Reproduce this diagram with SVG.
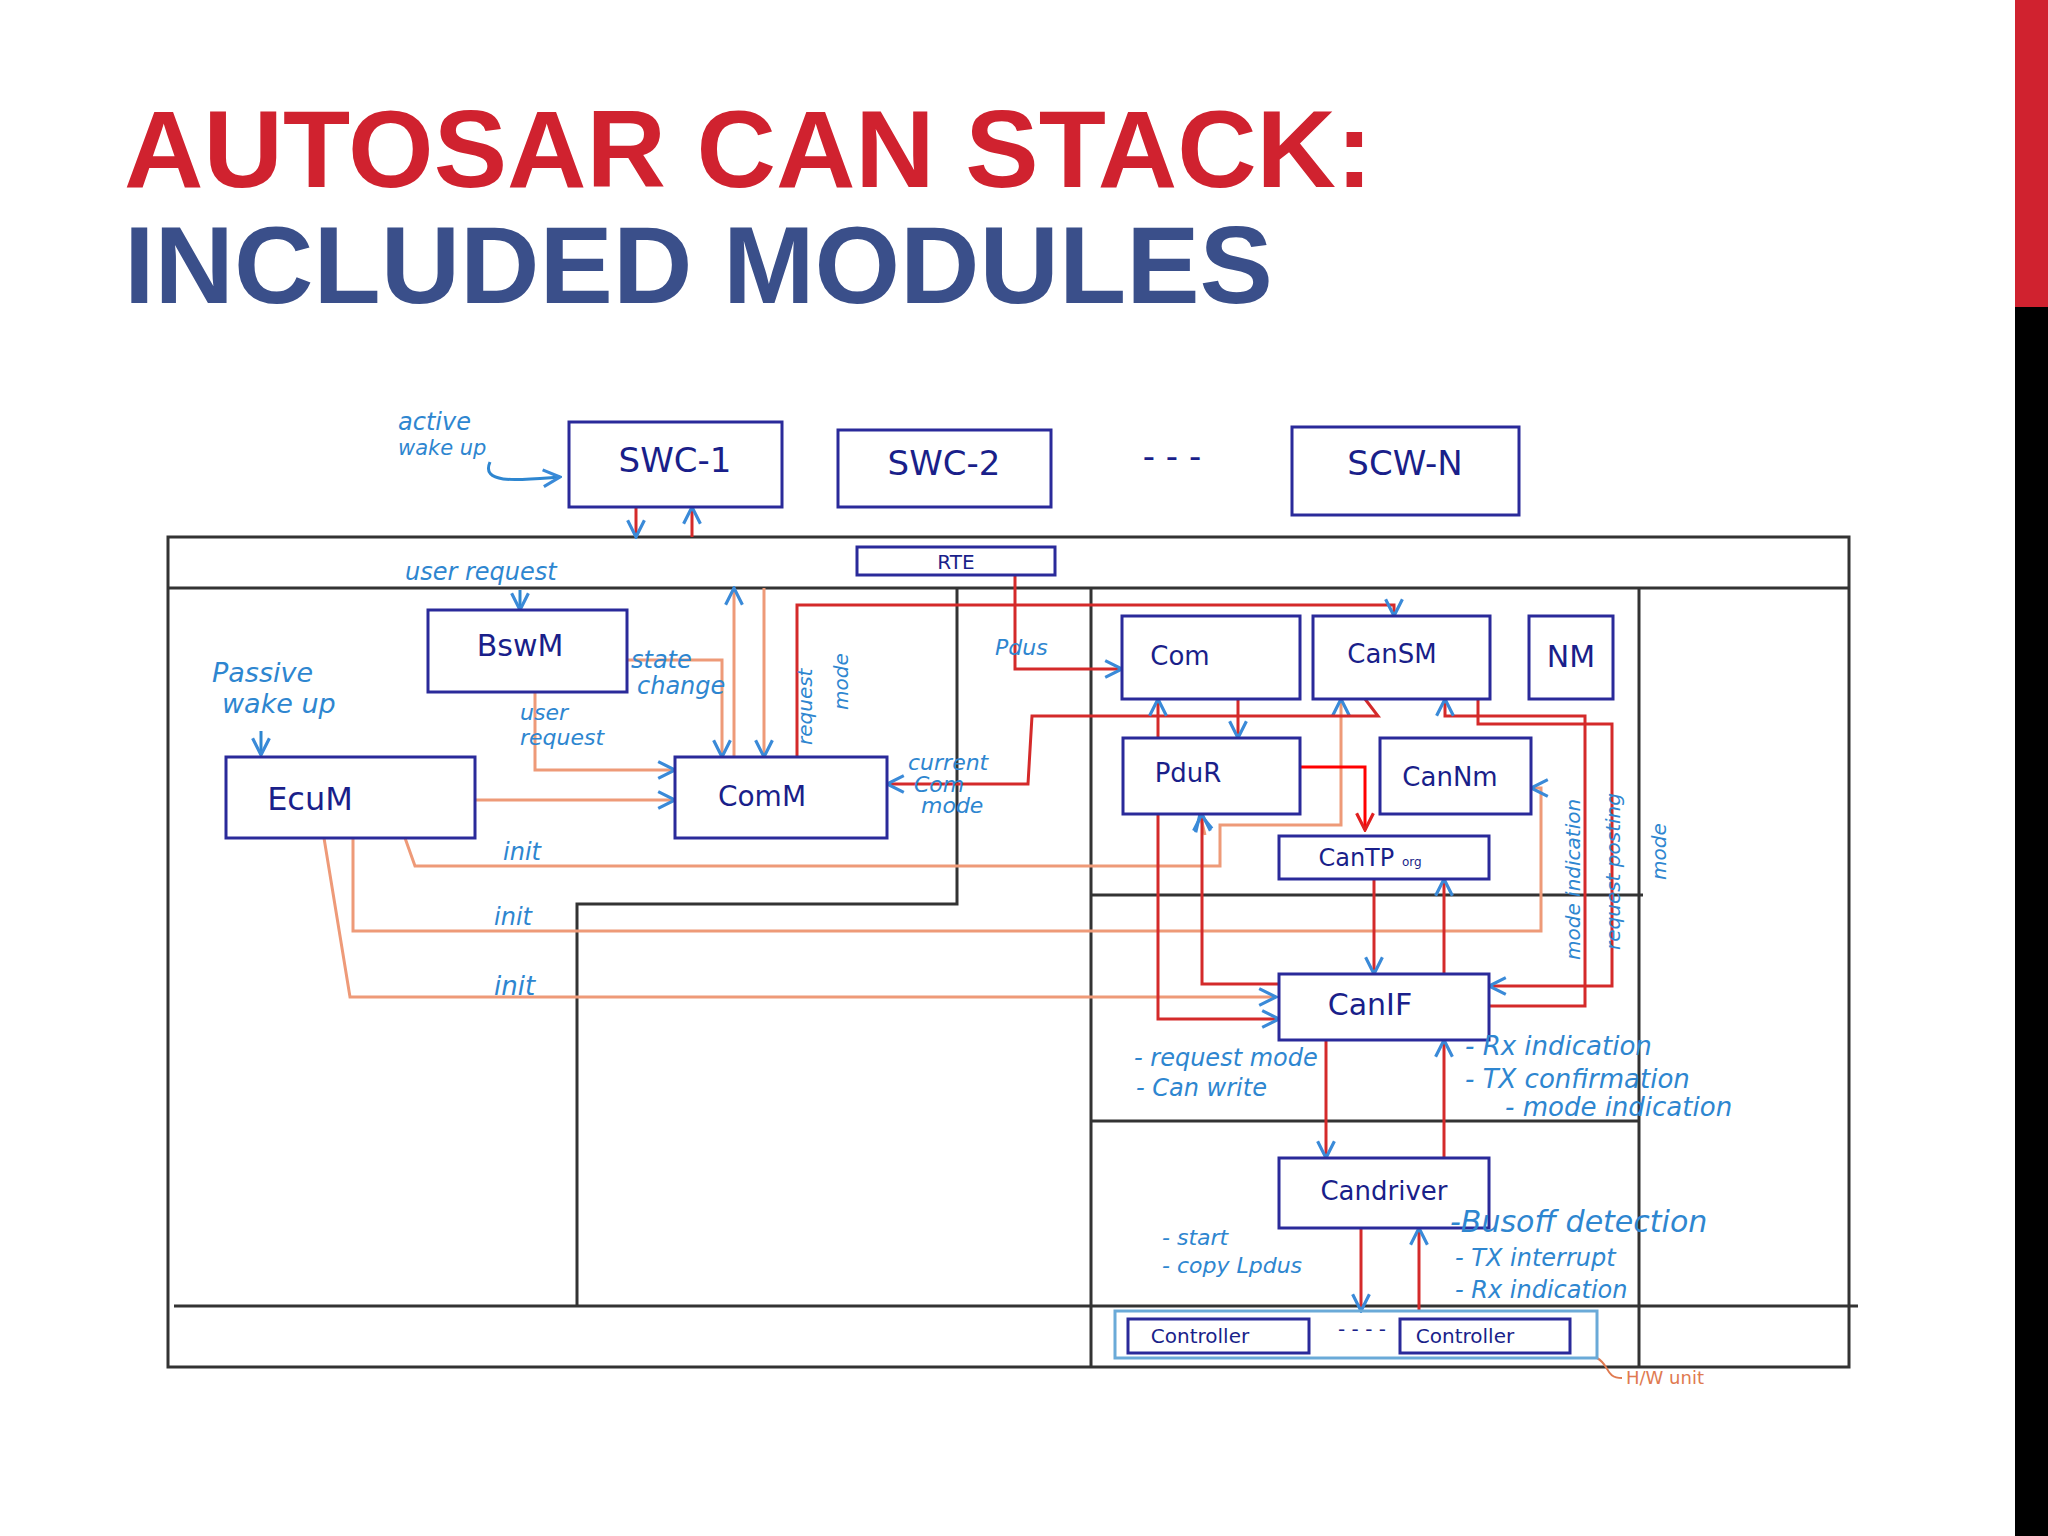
<svg xmlns="http://www.w3.org/2000/svg" width="2048" height="1536" viewBox="0 0 2048 1536">
<defs>
<style>
.box{fill:#fff;stroke:#2a2a9a;stroke-width:3}
.lbl{font-family:"DejaVu Sans",sans-serif;fill:#1a1f8a;text-anchor:middle}
.ann{font-family:"DejaVu Sans",sans-serif;fill:#2e86d0;font-style:italic}
.frame{fill:none;stroke:#333;stroke-width:3}
.red{fill:none;stroke:#d42a2a;stroke-width:3;marker-end:url(#ah)}
.org{fill:none;stroke:#ee9a78;stroke-width:3;marker-end:url(#ah)}
</style>
<marker id="ah" viewBox="0 0 10 10" refX="9" refY="5" markerWidth="7" markerHeight="7" orient="auto-start-reverse" markerUnits="strokeWidth"><path d="M1,1 L9,5 L1,9" fill="none" stroke="#3a8ad8" stroke-width="1.5"/></marker>
<marker id="ahr" viewBox="0 0 10 10" refX="9" refY="5" markerWidth="7" markerHeight="7" orient="auto" markerUnits="strokeWidth"><path d="M1,1 L9,5 L1,9" fill="none" stroke="#e02020" stroke-width="1.5"/></marker>
</defs>
<rect width="2048" height="1536" fill="#fff"/>
<rect x="2015" y="0" width="33" height="307" fill="#d0222f"/>
<rect x="2015" y="307" width="33" height="1229" fill="#000"/>
<text x="124" y="187" font-family="Liberation Sans,Arial,sans-serif" font-weight="bold" font-size="110" fill="#d0222f">AUTOSAR CAN STACK:</text>
<text x="124" y="303" font-family="Liberation Sans,Arial,sans-serif" font-weight="bold" font-size="110" fill="#3a4f8a">INCLUDED MODULES</text>

<g id="frame">
<rect class="frame" x="168" y="537" width="1681" height="830"/>
<path class="frame" d="M168,588 H1849 M957,588 V904 H577 V1306 M1091,588 V1367 M1639,588 V1367 M1091,895 H1643 M1091,1121 H1639 M174,1306 H1858"/>
</g>

<g id="connectors">
<path class="red" d="M636,507 V537"/>
<path class="red" d="M692,537 V507"/>
<path class="org" d="M734,757 V588"/>
<path class="org" d="M764,588 V757"/>
<path class="org" d="M535,692 V770 H675"/>
<path class="org" d="M627,660 H722 V757"/>
<path class="org" d="M475,800 H675"/>
<path class="org" d="M405,838 L415,866 H1220 V825 H1341 V699"/>
<path class="org" d="M1205,835 L1200,814"/>
<path class="org" d="M353,838 V931 H1541 V788 H1531"/>
<path class="org" d="M324,838 L350,997 H1276"/>
<path class="red" d="M797,757 V605 H1394 V616"/>
<path class="red" d="M1015,575 V669 H1122"/>
<path class="red" d="M1365,699 L1378,716 H1032 L1028,784 H887"/>
<path class="red" d="M1158,738 V699"/>
<path class="red" d="M1238,699 V738"/>
<path d="M1300,767 H1365 V830" fill="none" stroke="#f00" stroke-width="3" marker-end="url(#ahr)"/>
<path class="red" d="M1158,814 V1019 H1279"/>
<path class="red" d="M1279,984 H1202 V814"/>
<path class="red" d="M1374,879 V974"/>
<path class="red" d="M1444,974 V879"/>
<path class="red" d="M1478,700 V724 H1612 V986 H1489"/>
<path class="red" d="M1489,1006 H1585 V716 H1445 V699"/>
<path class="red" d="M1326,1040 V1158"/>
<path class="red" d="M1444,1158 V1040"/>
<path class="red" d="M1361,1228 V1311"/>
<path class="red" d="M1419,1311 V1228"/>
<path d="M490,462 C480,485 520,480 560,477" fill="none" stroke="#2e86d0" stroke-width="3" marker-end="url(#ah)"/>
<path d="M520,590 V610" fill="none" stroke="#2e86d0" stroke-width="3" marker-end="url(#ah)"/>
<path d="M261,731 V755" fill="none" stroke="#2e86d0" stroke-width="3" marker-end="url(#ah)"/>
<path d="M1597,1358 C1610,1365 1605,1378 1622,1378" fill="none" stroke="#e07a50" stroke-width="2"/>
</g>

<g id="swc1"><rect class="box" x="569" y="422" width="213" height="85"/><text class="lbl" x="675" y="472" font-size="34">SWC-1</text></g>
<g id="swc2"><rect class="box" x="838" y="430" width="213" height="77"/><text class="lbl" x="944" y="475" font-size="34">SWC-2</text></g>
<text class="lbl" x="1172" y="468" font-size="34">- - -</text>
<g id="swcn"><rect class="box" x="1292" y="427" width="227" height="88"/><text class="lbl" x="1405" y="475" font-size="34">SCW-N</text></g>
<g id="rte"><rect class="box" x="857" y="547" width="198" height="28"/><text class="lbl" x="956" y="569" font-size="20">RTE</text></g>
<g id="bswm"><rect class="box" x="428" y="610" width="199" height="82"/><text class="lbl" x="520" y="656" font-size="30">BswM</text></g>
<g id="ecum"><rect class="box" x="226" y="757" width="249" height="81"/><text class="lbl" x="310" y="810" font-size="32">EcuM</text></g>
<g id="comm"><rect class="box" x="675" y="757" width="212" height="81"/><text class="lbl" x="762" y="806" font-size="28">ComM</text></g>
<g id="com"><rect class="box" x="1122" y="616" width="178" height="83"/><text class="lbl" x="1180" y="665" font-size="26">Com</text></g>
<g id="cansm"><rect class="box" x="1313" y="616" width="177" height="83"/><text class="lbl" x="1392" y="663" font-size="26">CanSM</text></g>
<g id="nm"><rect class="box" x="1529" y="616" width="84" height="83"/><text class="lbl" x="1571" y="667" font-size="30">NM</text></g>
<g id="pdur"><rect class="box" x="1123" y="738" width="177" height="76"/><text class="lbl" x="1188" y="782" font-size="26">PduR</text></g>
<g id="cannm"><rect class="box" x="1380" y="738" width="151" height="76"/><text class="lbl" x="1450" y="786" font-size="26">CanNm</text></g>
<g id="cantp"><rect class="box" x="1279" y="836" width="210" height="43"/><text class="lbl" x="1370" y="866" font-size="24">CanTP <tspan font-size="12">org</tspan></text></g>
<g id="canif"><rect class="box" x="1279" y="974" width="210" height="66"/><text class="lbl" x="1370" y="1015" font-size="30">CanIF</text></g>
<g id="candriver"><rect class="box" x="1279" y="1158" width="210" height="70"/><text class="lbl" x="1384" y="1200" font-size="26">Candriver</text></g>
<g id="hwunit"><rect x="1115" y="1311" width="482" height="47" fill="none" stroke="#6aaad8" stroke-width="3"/>
<rect class="box" x="1128" y="1319" width="181" height="34"/><text class="lbl" x="1200" y="1343" font-size="20">Controller</text>
<text class="lbl" x="1362" y="1336" font-size="20">- - - -</text>
<rect class="box" x="1400" y="1319" width="170" height="34"/><text class="lbl" x="1465" y="1343" font-size="20">Controller</text></g>

<g id="annotations">
<text class="ann" x="398" y="430" font-size="24">active</text>
<text class="ann" x="398" y="455" font-size="21">wake up</text>
<text class="ann" x="405" y="580" font-size="24">user request</text>
<text class="ann" x="212" y="682" font-size="27">Passive</text>
<text class="ann" x="222" y="713" font-size="27">wake up</text>
<text class="ann" x="631" y="668" font-size="24">state</text>
<text class="ann" x="637" y="694" font-size="24">change</text>
<text class="ann" x="520" y="720" font-size="22">user</text>
<text class="ann" x="520" y="745" font-size="22">request</text>
<text class="ann" transform="translate(812,745) rotate(-90)" font-size="20">request</text>
<text class="ann" transform="translate(848,710) rotate(-90)" font-size="20">mode</text>
<text class="ann" x="995" y="655" font-size="22">Pdus</text>
<text class="ann" x="908" y="770" font-size="22">current</text>
<text class="ann" x="914" y="792" font-size="22">Com</text>
<text class="ann" x="921" y="813" font-size="22">mode</text>
<text class="ann" x="503" y="860" font-size="24">init</text>
<text class="ann" x="494" y="925" font-size="24">init</text>
<text class="ann" x="494" y="995" font-size="26">init</text>
<text class="ann" transform="translate(1580,960) rotate(-90)" font-size="20">mode indication</text>
<text class="ann" transform="translate(1620,950) rotate(-90)" font-size="20">request posting</text>
<text class="ann" transform="translate(1666,880) rotate(-90)" font-size="20">mode</text>
<text class="ann" x="1134" y="1066" font-size="24">- request mode</text>
<text class="ann" x="1136" y="1096" font-size="24">- Can write</text>
<text class="ann" x="1465" y="1055" font-size="26">- Rx indication</text>
<text class="ann" x="1465" y="1088" font-size="26">- TX confirmation</text>
<text class="ann" x="1505" y="1116" font-size="26">- mode indication</text>
<text class="ann" x="1162" y="1245" font-size="22">- start</text>
<text class="ann" x="1162" y="1273" font-size="22">- copy Lpdus</text>
<text class="ann" x="1450" y="1232" font-size="30">-Busoff detection</text>
<text class="ann" x="1455" y="1266" font-size="24">- TX interrupt</text>
<text class="ann" x="1455" y="1298" font-size="24">- Rx indication</text>
<text x="1626" y="1384" font-family="DejaVu Sans,sans-serif" font-size="18" fill="#e07a50">H/W unit</text>
</g>
</svg>
